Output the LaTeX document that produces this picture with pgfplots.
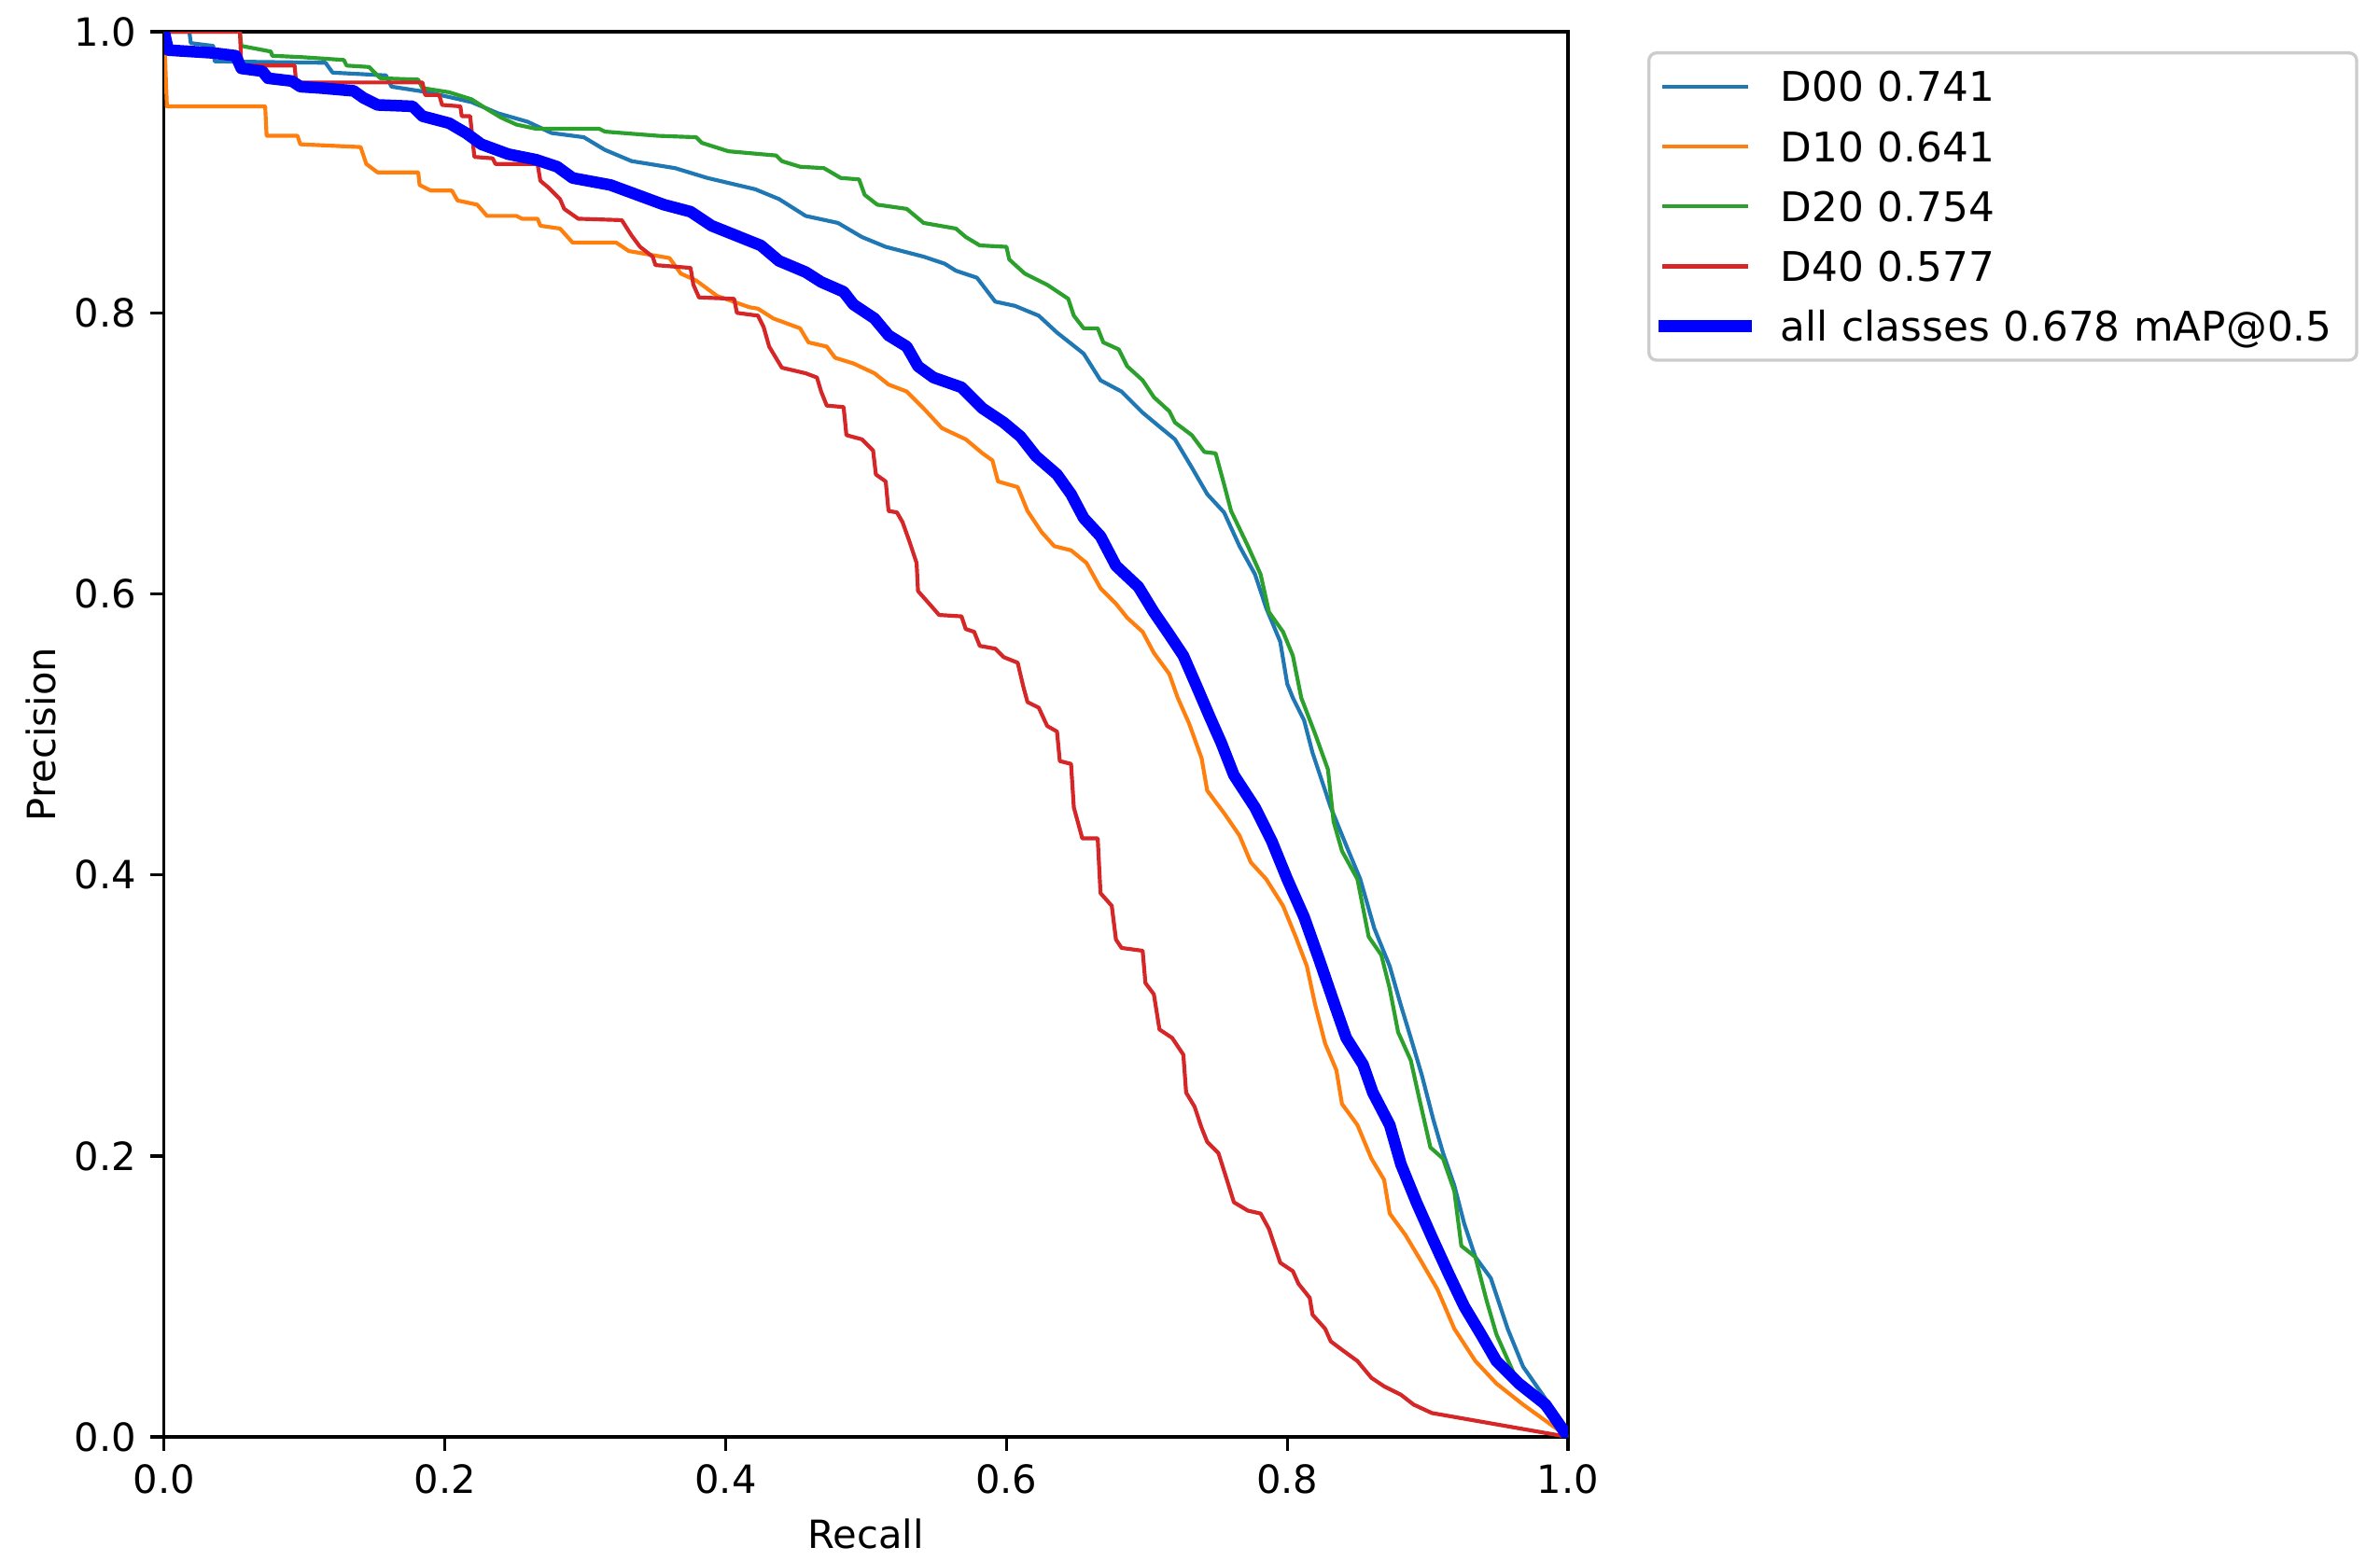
\documentclass[border=0pt]{standalone}
\usepackage{fontspec}
\setmainfont{DejaVu Sans}
\usepackage{pgfplots}
\pgfplotsset{compat=1.18}
\definecolor{tabblue}{HTML}{1F77B4}
\definecolor{taborange}{HTML}{FF7F0E}
\definecolor{tabgreen}{HTML}{2CA02C}
\definecolor{tabred}{HTML}{D62728}
\definecolor{legframe}{HTML}{CCCCCC}
\begin{document}
\begin{tikzpicture}
\useasboundingbox (-42.2pt,-31.9pt) rectangle (569.8pt,369.6pt);
\begin{axis}[
  at={(0,0)}, anchor=south west,
  scale only axis, width=361pt, height=361.4pt,
  xmin=0, xmax=1, ymin=0, ymax=1,
  xtick={0,0.2,0.4,0.6,0.8,1}, ytick={0,0.2,0.4,0.6,0.8,1},
  tick pos=left, tick align=outside, major tick length=3.5pt,
  tick style={black, line width=0.8pt},
  axis line style={line width=0.8pt},
  xticklabel style={inner sep=0pt, yshift=-3.5pt, /pgf/number format/fixed, /pgf/number format/fixed zerofill, /pgf/number format/precision=1, /pgf/number format/assume math mode=true},
  yticklabel style={inner sep=0pt, xshift=-3.5pt, /pgf/number format/fixed, /pgf/number format/fixed zerofill, /pgf/number format/precision=1, /pgf/number format/assume math mode=true},
  xlabel={Recall}, ylabel={Precision},
  xlabel style={at={(axis description cs:0.5,-0.0791)}, anchor=base},
  ylabel style={at={(axis description cs:-0.0775,0.5)}, anchor=base, rotate=0},
  every axis plot/.append style={line join=round, line cap=rect},
  legend image code/.code={\draw[#1] (0pt,0pt) -- (21pt,0pt);},
  legend style={at={(1,1)}, anchor=north west, xshift=20.4pt, yshift=-5pt,
    draw=legframe, line width=0.8pt, rounded corners=2pt,
    font=\fontsize{10.5pt}{12pt}\selectfont,
    inner xsep=2.5pt, inner ysep=4.9pt, row sep=7.75pt, column sep=7.4pt,
    nodes={inner sep=0pt, text height=7.65pt, text depth=0pt, text width=145.6pt},
    cells={anchor=west}},
]
\addplot[tabblue, line width=1pt] coordinates {
(0,1) (0.018,1) (0.019,0.992) (0.035,0.990) (0.036,0.979) (0.115,0.978) (0.120,0.971) (0.158,0.969) (0.162,0.961) (0.188,0.957) (0.219,0.950) (0.238,0.942) (0.259,0.936) (0.276,0.928) (0.299,0.925) (0.314,0.916) (0.333,0.908) (0.364,0.903) (0.387,0.896) (0.421,0.888) (0.438,0.881) (0.457,0.869) (0.480,0.864) (0.497,0.854) (0.514,0.847) (0.541,0.840) (0.556,0.835) (0.564,0.830) (0.579,0.825) (0.592,0.808) (0.606,0.805) (0.623,0.798) (0.636,0.786) (0.655,0.771) (0.667,0.752) (0.682,0.744) (0.697,0.729) (0.709,0.719) (0.720,0.710) (0.732,0.690) (0.743,0.671) (0.755,0.658) (0.766,0.634) (0.777,0.614) (0.785,0.590) (0.795,0.566) (0.800,0.536) (0.804,0.526) (0.812,0.510) (0.818,0.487) (0.831,0.448) (0.842,0.421) (0.852,0.397) (0.862,0.362) (0.873,0.335) (0.881,0.307) (0.888,0.284) (0.896,0.257) (0.904,0.226) (0.911,0.202) (0.919,0.179) (0.926,0.152) (0.934,0.128) (0.945,0.113) (0.957,0.077) (0.968,0.050) (0.984,0.027) (1.0,0.0)
};
\addlegendentry{D00 0.741}
\addplot[taborange, line width=1pt] coordinates {
(0,1) (0.002,0.947) (0.072,0.947) (0.073,0.926) (0.095,0.926) (0.097,0.920) (0.140,0.918) (0.144,0.906) (0.152,0.900) (0.181,0.900) (0.182,0.891) (0.190,0.887) (0.205,0.887) (0.209,0.880) (0.223,0.877) (0.230,0.869) (0.251,0.869) (0.255,0.867) (0.266,0.867) (0.268,0.862) (0.282,0.860) (0.291,0.850) (0.322,0.850) (0.331,0.844) (0.360,0.839) (0.368,0.828) (0.379,0.823) (0.394,0.812) (0.417,0.804) (0.423,0.803) (0.434,0.796) (0.453,0.789) (0.459,0.779) (0.472,0.776) (0.478,0.768) (0.491,0.764) (0.506,0.757) (0.516,0.749) (0.529,0.744) (0.541,0.732) (0.554,0.718) (0.571,0.710) (0.583,0.700) (0.590,0.695) (0.594,0.680) (0.608,0.676) (0.615,0.659) (0.625,0.644) (0.634,0.634) (0.646,0.631) (0.657,0.622) (0.667,0.604) (0.678,0.593) (0.686,0.583) (0.697,0.573) (0.705,0.558) (0.716,0.543) (0.722,0.526) (0.730,0.508) (0.739,0.483) (0.743,0.460) (0.755,0.444) (0.766,0.428) (0.774,0.409) (0.785,0.397) (0.797,0.378) (0.806,0.356) (0.814,0.335) (0.820,0.307) (0.827,0.280) (0.835,0.261) (0.839,0.237) (0.850,0.222) (0.860,0.198) (0.869,0.183) (0.873,0.159) (0.884,0.144) (0.896,0.124) (0.907,0.105) (0.919,0.077) (0.934,0.054) (0.949,0.038) (0.968,0.023) (1.0,0.0)
};
\addlegendentry{D10 0.641}
\addplot[tabgreen, line width=1pt] coordinates {
(0,1) (0.054,1) (0.055,0.990) (0.076,0.986) (0.077,0.983) (0.098,0.982) (0.128,0.980) (0.130,0.976) (0.146,0.975) (0.154,0.967) (0.181,0.966) (0.184,0.960) (0.203,0.957) (0.219,0.952) (0.230,0.945) (0.240,0.939) (0.251,0.934) (0.265,0.931) (0.310,0.931) (0.314,0.929) (0.352,0.926) (0.379,0.925) (0.383,0.921) (0.402,0.915) (0.436,0.912) (0.440,0.908) (0.453,0.904) (0.470,0.903) (0.482,0.896) (0.495,0.895) (0.499,0.884) (0.508,0.877) (0.529,0.874) (0.541,0.864) (0.564,0.860) (0.571,0.854) (0.581,0.848) (0.600,0.847) (0.602,0.838) (0.613,0.828) (0.629,0.820) (0.644,0.810) (0.648,0.798) (0.655,0.789) (0.665,0.789) (0.669,0.779) (0.680,0.774) (0.686,0.762) (0.697,0.752) (0.705,0.740) (0.716,0.730) (0.720,0.722) (0.732,0.713) (0.741,0.701) (0.749,0.700) (0.755,0.678) (0.760,0.659) (0.772,0.634) (0.781,0.614) (0.787,0.587) (0.797,0.573) (0.804,0.556) (0.810,0.526) (0.820,0.500) (0.829,0.475) (0.833,0.438) (0.839,0.417) (0.850,0.397) (0.858,0.356) (0.867,0.343) (0.873,0.319) (0.879,0.288) (0.888,0.268) (0.894,0.241) (0.902,0.206) (0.911,0.198) (0.919,0.175) (0.924,0.136) (0.934,0.128) (0.942,0.097) (0.949,0.073) (0.961,0.046) (0.980,0.023) (1.0,0.0)
};
\addlegendentry{D20 0.754}
\addplot[tabred, line width=1pt] coordinates {
(0,1) (0.054,1) (0.055,0.976) (0.093,0.976) (0.094,0.964) (0.184,0.964) (0.186,0.955) (0.196,0.955) (0.198,0.948) (0.211,0.947) (0.212,0.940) (0.218,0.940) (0.221,0.911) (0.234,0.910) (0.236,0.906) (0.266,0.906) (0.268,0.894) (0.274,0.889) (0.282,0.881) (0.285,0.874) (0.295,0.867) (0.326,0.866) (0.333,0.855) (0.339,0.847) (0.348,0.840) (0.350,0.834) (0.375,0.832) (0.377,0.820) (0.381,0.811) (0.406,0.810) (0.408,0.800) (0.423,0.798) (0.427,0.790) (0.431,0.776) (0.440,0.761) (0.457,0.757) (0.465,0.754) (0.468,0.744) (0.472,0.734) (0.484,0.733) (0.486,0.713) (0.497,0.710) (0.505,0.702) (0.507,0.685) (0.514,0.680) (0.516,0.659) (0.522,0.658) (0.526,0.651) (0.531,0.637) (0.536,0.622) (0.537,0.602) (0.545,0.593) (0.552,0.585) (0.568,0.584) (0.571,0.575) (0.577,0.573) (0.581,0.563) (0.592,0.561) (0.598,0.555) (0.608,0.551) (0.612,0.534) (0.615,0.523) (0.623,0.519) (0.629,0.506) (0.636,0.502) (0.638,0.481) (0.646,0.479) (0.648,0.448) (0.654,0.426) (0.665,0.426) (0.667,0.387) (0.675,0.378) (0.678,0.354) (0.682,0.348) (0.697,0.346) (0.699,0.323) (0.705,0.315) (0.709,0.290) (0.718,0.284) (0.726,0.272) (0.728,0.245) (0.734,0.235) (0.739,0.220) (0.743,0.210) (0.751,0.202) (0.757,0.183) (0.762,0.167) (0.772,0.161) (0.781,0.159) (0.787,0.148) (0.795,0.124) (0.804,0.118) (0.808,0.109) (0.816,0.099) (0.818,0.087) (0.827,0.077) (0.831,0.068) (0.839,0.062) (0.850,0.054) (0.860,0.042) (0.869,0.036) (0.881,0.030) (0.890,0.023) (0.903,0.017) (1.0,0.0)
};
\addlegendentry{D40 0.577}
\addplot[blue, line width=3pt] coordinates {
(0,1) (0.003,0.987) (0.035,0.985) (0.051,0.983) (0.055,0.974) (0.070,0.972) (0.074,0.967) (0.091,0.965) (0.097,0.961) (0.112,0.960) (0.135,0.958) (0.142,0.953) (0.152,0.948) (0.177,0.947) (0.184,0.940) (0.203,0.935) (0.215,0.928) (0.226,0.920) (0.245,0.913) (0.265,0.909) (0.280,0.904) (0.291,0.896) (0.318,0.891) (0.337,0.884) (0.356,0.877) (0.375,0.872) (0.390,0.862) (0.410,0.854) (0.425,0.848) (0.438,0.837) (0.457,0.829) (0.468,0.822) (0.484,0.815) (0.491,0.806) (0.506,0.796) (0.516,0.784) (0.529,0.776) (0.537,0.762) (0.548,0.754) (0.568,0.747) (0.583,0.732) (0.598,0.722) (0.610,0.712) (0.621,0.698) (0.636,0.685) (0.646,0.671) (0.655,0.654) (0.667,0.641) (0.678,0.620) (0.694,0.605) (0.705,0.587) (0.716,0.571) (0.726,0.556) (0.736,0.533) (0.745,0.512) (0.753,0.494) (0.762,0.471) (0.777,0.448) (0.789,0.424) (0.800,0.397) (0.812,0.370) (0.823,0.339) (0.835,0.304) (0.842,0.284) (0.854,0.265) (0.861,0.245) (0.873,0.222) (0.881,0.194) (0.892,0.167) (0.904,0.140) (0.915,0.116) (0.926,0.093) (0.938,0.073) (0.949,0.054) (0.965,0.038) (0.984,0.023) (1.0,0.0)
};
\addlegendentry{all classes 0.678 mAP@0.5}
\end{axis}
\end{tikzpicture}
\end{document}
